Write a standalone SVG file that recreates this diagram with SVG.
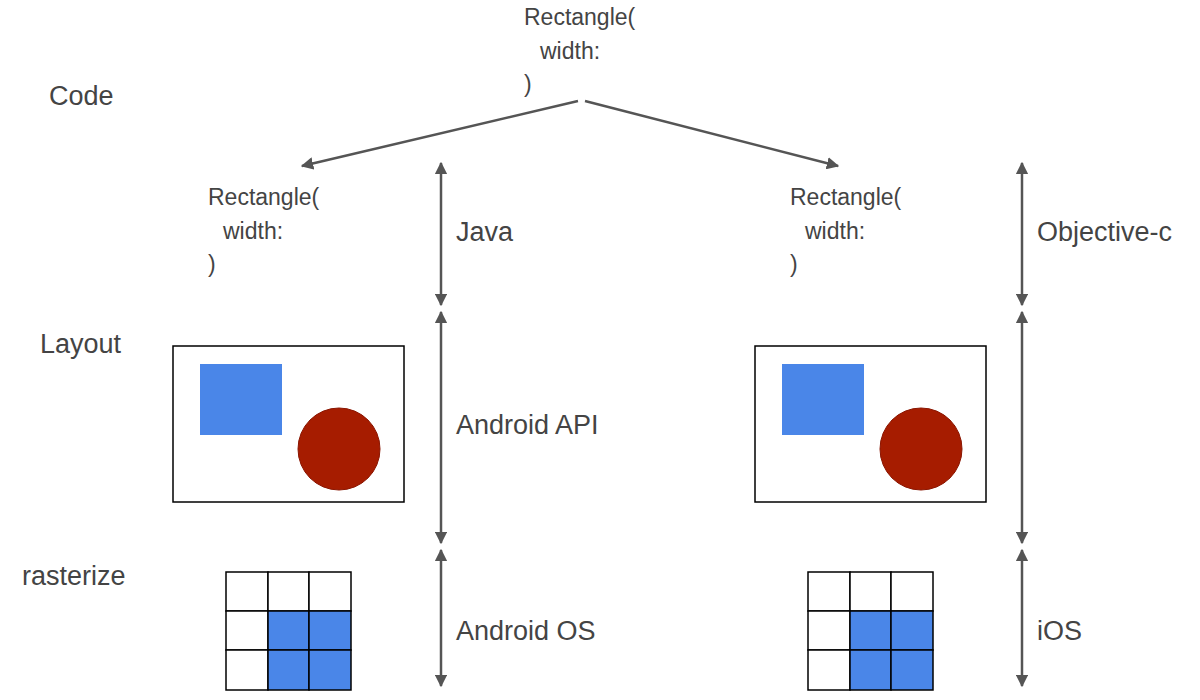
<svg xmlns="http://www.w3.org/2000/svg" width="1200" height="700" viewBox="0 0 1200 700">
<defs>
<marker id="ah" viewBox="0 0 10 10" refX="9" refY="5" markerWidth="5" markerHeight="5" orient="auto-start-reverse"><path d="M0,0 L10,5 L0,10 Z" fill="#555"/></marker>
<style>
text{font-family:"Liberation Sans",Arial,sans-serif;fill:#444}
.c{font-size:23px}
.l{font-size:27px}
.ln{stroke:#555;stroke-width:2.5;fill:none;marker-end:url(#ah)}
.d{marker-start:url(#ah)}
.box{fill:#fff;stroke:#000;stroke-width:1.5}
.sq{fill:#4a86e8}
.ci{fill:#a61c00;stroke:#8a1500}
.g{fill:#fff;stroke:#000;stroke-width:1.5}
.gb{fill:#4a86e8;stroke:#000;stroke-width:1.5}
</style>
</defs>
<rect width="1200" height="700" fill="#fff"/>
<g id="labels">
<text class="l" x="49" y="105">Code</text>
<text class="l" x="40" y="353">Layout</text>
<text class="l" x="22" y="585">rasterize</text>
<text class="l" x="456" y="241">Java</text>
<text class="l" x="456" y="434">Android API</text>
<text class="l" x="456" y="640">Android OS</text>
<text class="l" x="1037" y="241">Objective-c</text>
<text class="l" x="1037" y="640">iOS</text>
</g>
<g id="code-top"><text class="c" x="524" y="25">Rectangle(</text><text class="c" x="540" y="59">width:</text><text class="c" x="524" y="92">)</text></g>
<g id="code-android"><text class="c" x="208" y="205">Rectangle(</text><text class="c" x="223" y="239">width:</text><text class="c" x="208" y="272">)</text></g>
<g id="code-ios"><text class="c" x="790" y="205">Rectangle(</text><text class="c" x="805" y="239">width:</text><text class="c" x="790" y="272">)</text></g>
<g id="layout-android"><rect class="box" x="173" y="346" width="231" height="156"/><rect class="sq" x="200" y="364" width="82" height="71"/><circle class="ci" cx="339" cy="449" r="41"/></g>
<g id="layout-ios"><rect class="box" x="755" y="346" width="231" height="156"/><rect class="sq" x="782" y="364" width="82" height="71"/><circle class="ci" cx="921" cy="449" r="41"/></g>
<g id="raster-android">
<rect class="g" x="226" y="572" width="42" height="39"/><rect class="g" x="268" y="572" width="41" height="39"/><rect class="g" x="309" y="572" width="42" height="39"/>
<rect class="g" x="226" y="611" width="42" height="39"/><rect class="gb" x="268" y="611" width="41" height="39"/><rect class="gb" x="309" y="611" width="42" height="39"/>
<rect class="g" x="226" y="650" width="42" height="40"/><rect class="gb" x="268" y="650" width="41" height="40"/><rect class="gb" x="309" y="650" width="42" height="40"/>
</g>
<g id="raster-ios">
<rect class="g" x="808" y="572" width="42" height="39"/><rect class="g" x="850" y="572" width="41" height="39"/><rect class="g" x="891" y="572" width="42" height="39"/>
<rect class="g" x="808" y="611" width="42" height="39"/><rect class="gb" x="850" y="611" width="41" height="39"/><rect class="gb" x="891" y="611" width="42" height="39"/>
<rect class="g" x="808" y="650" width="42" height="40"/><rect class="gb" x="850" y="650" width="41" height="40"/><rect class="gb" x="891" y="650" width="42" height="40"/>
</g>
<g id="connectors">
<line class="ln" x1="578" y1="101" x2="302" y2="166"/>
<line class="ln" x1="585" y1="101" x2="838" y2="166"/>
<line class="ln d" x1="441" y1="163" x2="441" y2="305"/>
<line class="ln d" x1="441" y1="312" x2="441" y2="543"/>
<line class="ln d" x1="441" y1="550" x2="441" y2="686"/>
<line class="ln d" x1="1022" y1="163" x2="1022" y2="305"/>
<line class="ln d" x1="1022" y1="312" x2="1022" y2="543"/>
<line class="ln d" x1="1022" y1="550" x2="1022" y2="686"/>
</g>
</svg>
